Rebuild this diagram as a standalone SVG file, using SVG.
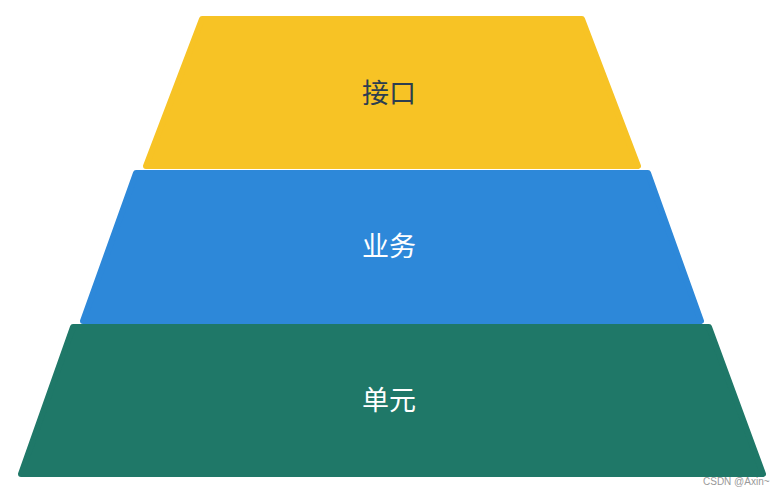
<svg xmlns="http://www.w3.org/2000/svg" width="784" height="495" viewBox="0 0 784 495">
<style>
.layer{stroke-width:6;stroke-linejoin:round}
.lbl{font-family:"Noto Sans CJK SC","Noto Sans",sans-serif;font-size:27px;text-anchor:middle;dominant-baseline:central}
</style>
<rect width="784" height="495" fill="#ffffff"/>
<g id="layer-api">
<polygon class="layer" fill="#F7C325" stroke="#F7C325" points="202,19 582,19 638,166 146,166"/>
<text class="lbl" x="389" y="91" fill="#2C3E50">接口</text>
</g>
<g id="layer-business">
<polygon class="layer" fill="#2D88D9" stroke="#2D88D9" points="136,173 648,173 701,321 83,321"/>
<text class="lbl" x="389" y="244" fill="#ffffff">业务</text>
</g>
<g id="layer-unit">
<polygon class="layer" fill="#1F7868" stroke="#1F7868" points="73,327 709,327 763,474 21,474"/>
<text class="lbl" x="389" y="398" fill="#ffffff">单元</text>
</g>
<text x="703" y="485" font-family="Liberation Sans,sans-serif" font-size="10" fill="#999999">CSDN @Axin~</text>
</svg>
